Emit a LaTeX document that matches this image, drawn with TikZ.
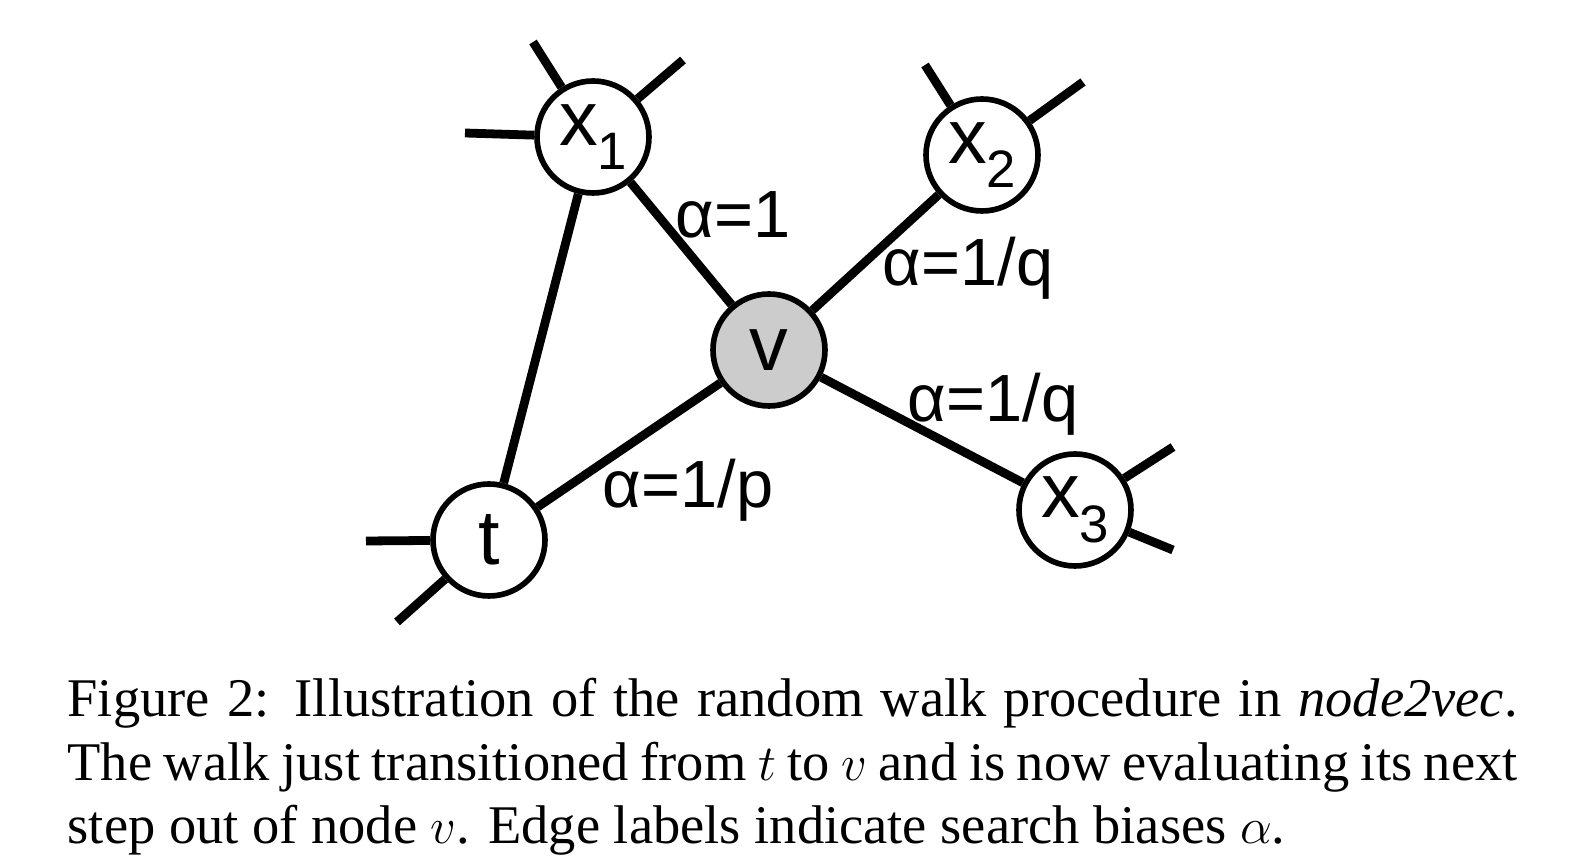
\documentclass[tikz,border=0pt]{standalone}
\usepackage{fontspec}
\setmainfont{Liberation Serif}
\newfontfamily\sansf{Liberation Sans}
\newcommand{\subn}[1]{\raisebox{-0.6ex}{\fontsize{15}{15}\selectfont #1}}
\begin{document}
\begin{tikzpicture}[x=1cm,y=1cm,
  vert/.style={circle,draw=black,line width=1.6pt,minimum size=1.12cm,inner sep=0pt,fill=white,font=\sansf\fontsize{22}{24}\selectfont},
  edge/.style={line width=2.5pt},
  lab/.style={font=\sansf\fontsize{19}{22}\selectfont,inner sep=0pt}]
\useasboundingbox (0,0) rectangle (15.72,-8.64);
\fill[white] (0,0) rectangle (15.72,-8.64);
\coordinate (a1) at (4.65,-1.33);
\coordinate (a2) at (5.33,-0.42);
\coordinate (a3) at (6.83,-0.60);
\coordinate (b1) at (9.25,-0.65);
\coordinate (b2) at (10.83,-0.82);
\coordinate (c1) at (11.73,-4.47);
\coordinate (c2) at (11.73,-5.50);
\coordinate (d1) at (3.66,-5.41);
\coordinate (d2) at (3.97,-6.22);
\node[vert] (x1) at (5.93,-1.37) {x\subn{1}};
\node[vert] (x2) at (9.82,-1.55) {x\subn{2}};
\node[vert,fill=black!20] (v) at (7.69,-3.50) {v};
\node[vert] (t) at (4.89,-5.40) {t};
\node[vert] (x3) at (10.75,-5.10) {x\subn{3}};
\draw[edge] (x1) -- (v);
\draw[edge] (x2) -- (v);
\draw[edge] (x3) -- (v);
\draw[edge] (t) -- (v);
\draw[edge] (t) -- (x1);
\draw[edge] (a1) -- (x1); \draw[edge] (a2) -- (x1); \draw[edge] (a3) -- (x1);
\draw[edge] (b1) -- (x2); \draw[edge] (b2) -- (x2);
\draw[edge] (c1) -- (x3); \draw[edge] (c2) -- (x3);
\draw[edge] (d1) -- (t); \draw[edge] (d2) -- (t);
\node[lab] (l1) at (7.33,-2.15) {α=1};
\node[lab] (l2) at (9.68,-2.68) {α=1/q};
\node[lab] (l3) at (9.93,-4.04) {α=1/q};
\node[lab] (l4) at (6.88,-4.90) {α=1/p};
\node[anchor=north west,text width=14.5cm,align=justify,inner sep=0pt,font=\fontsize{15.5}{18.2}\selectfont] (cap) at (0.67,-6.77)
{Figure 2: Illustration of the random walk procedure in \textit{node2vec}. The walk just transitioned from $t$ to $v$ and is now evaluating its next step out of node $v$. Edge labels indicate search biases $\alpha$.};
\end{tikzpicture}
\end{document}
